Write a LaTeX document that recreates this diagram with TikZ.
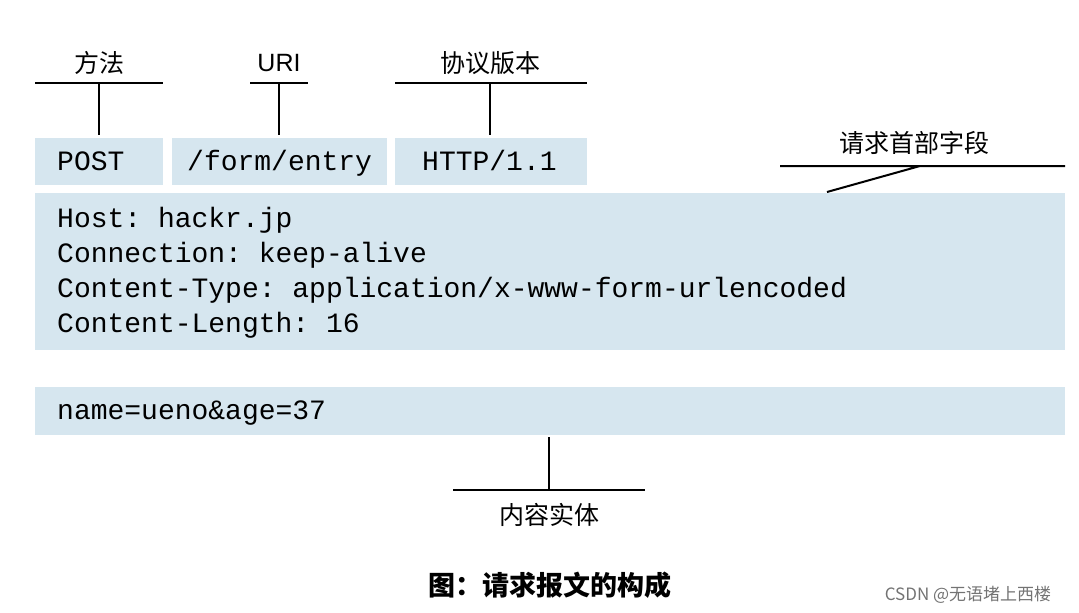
\documentclass[tikz,border=0pt]{standalone}
\usepackage{fontspec}
\setmainfont{Liberation Sans}
\setmonofont{Liberation Mono}
\newfontfamily\cjk{Noto Sans CJK SC}
\begin{document}
\begin{tikzpicture}[x=1pt,y=-1pt,
  ln/.style={line width=2pt, black},
  mono/.style={font=\ttfamily\fontsize{28}{30}\selectfont, anchor=base west, inner sep=0},
  lab/.style={font=\cjk\fontsize{25}{27}\selectfont, inner sep=0}]
\useasboundingbox (0,0) rectangle (1079,613);
\definecolor{bx}{HTML}{D6E6EF}
\fill[bx] (35,138) rectangle (163,185);
\fill[bx] (172,138) rectangle (387,185);
\fill[bx] (395,138) rectangle (587,185);
\fill[bx] (35,193) rectangle (1065,350);
\fill[bx] (35,387) rectangle (1065,435);
\node[mono] (post) at (57,170) {POST};
\node[mono] (form) at (187,170) {/form/entry};
\node[mono] (http) at (422,170) {HTTP/1.1};
\node[mono] (h1) at (57,227) {Host: hackr.jp};
\node[mono] (h2) at (57,262) {Connection: keep-alive};
\node[mono] (h3) at (57,297) {Content-Type: application/x-www-form-urlencoded};
\node[mono] (h4) at (57,332) {Content-Length: 16};
\node[mono] (body) at (57,419) {name=ueno\&age=37};
\node[lab] (m) at (99,63) {方法};
\node[font=\fontsize{25}{27}\selectfont, inner sep=0] (u) at (279,63) {URI};
\node[lab] (v) at (490,63) {协议版本};
\node[lab] (hd) at (914,143) {请求首部字段};
\node[lab] (bd) at (549,515) {内容实体};
\draw[ln] (35,83) -- (163,83) (99,83) -- (99,135);
\draw[ln] (250,83) -- (308,83) (279,83) -- (279,135);
\draw[ln] (395,83) -- (587,83) (490,83) -- (490,135);
\draw[ln] (780,166) -- (1065,166) (920,166) -- (827,192);
\draw[ln] (549,437) -- (549,490) (453,490) -- (645,490);
\node[font=\cjk\bfseries\fontsize{27}{29}\selectfont, inner sep=0] (cap) at (550,585) {图：请求报文的构成};
\node[font=\cjk\fontsize{17}{19}\selectfont, text=black!55, inner sep=0] (wm) at (968,595) {CSDN @无语堵上西楼};
\end{tikzpicture}
\end{document}
